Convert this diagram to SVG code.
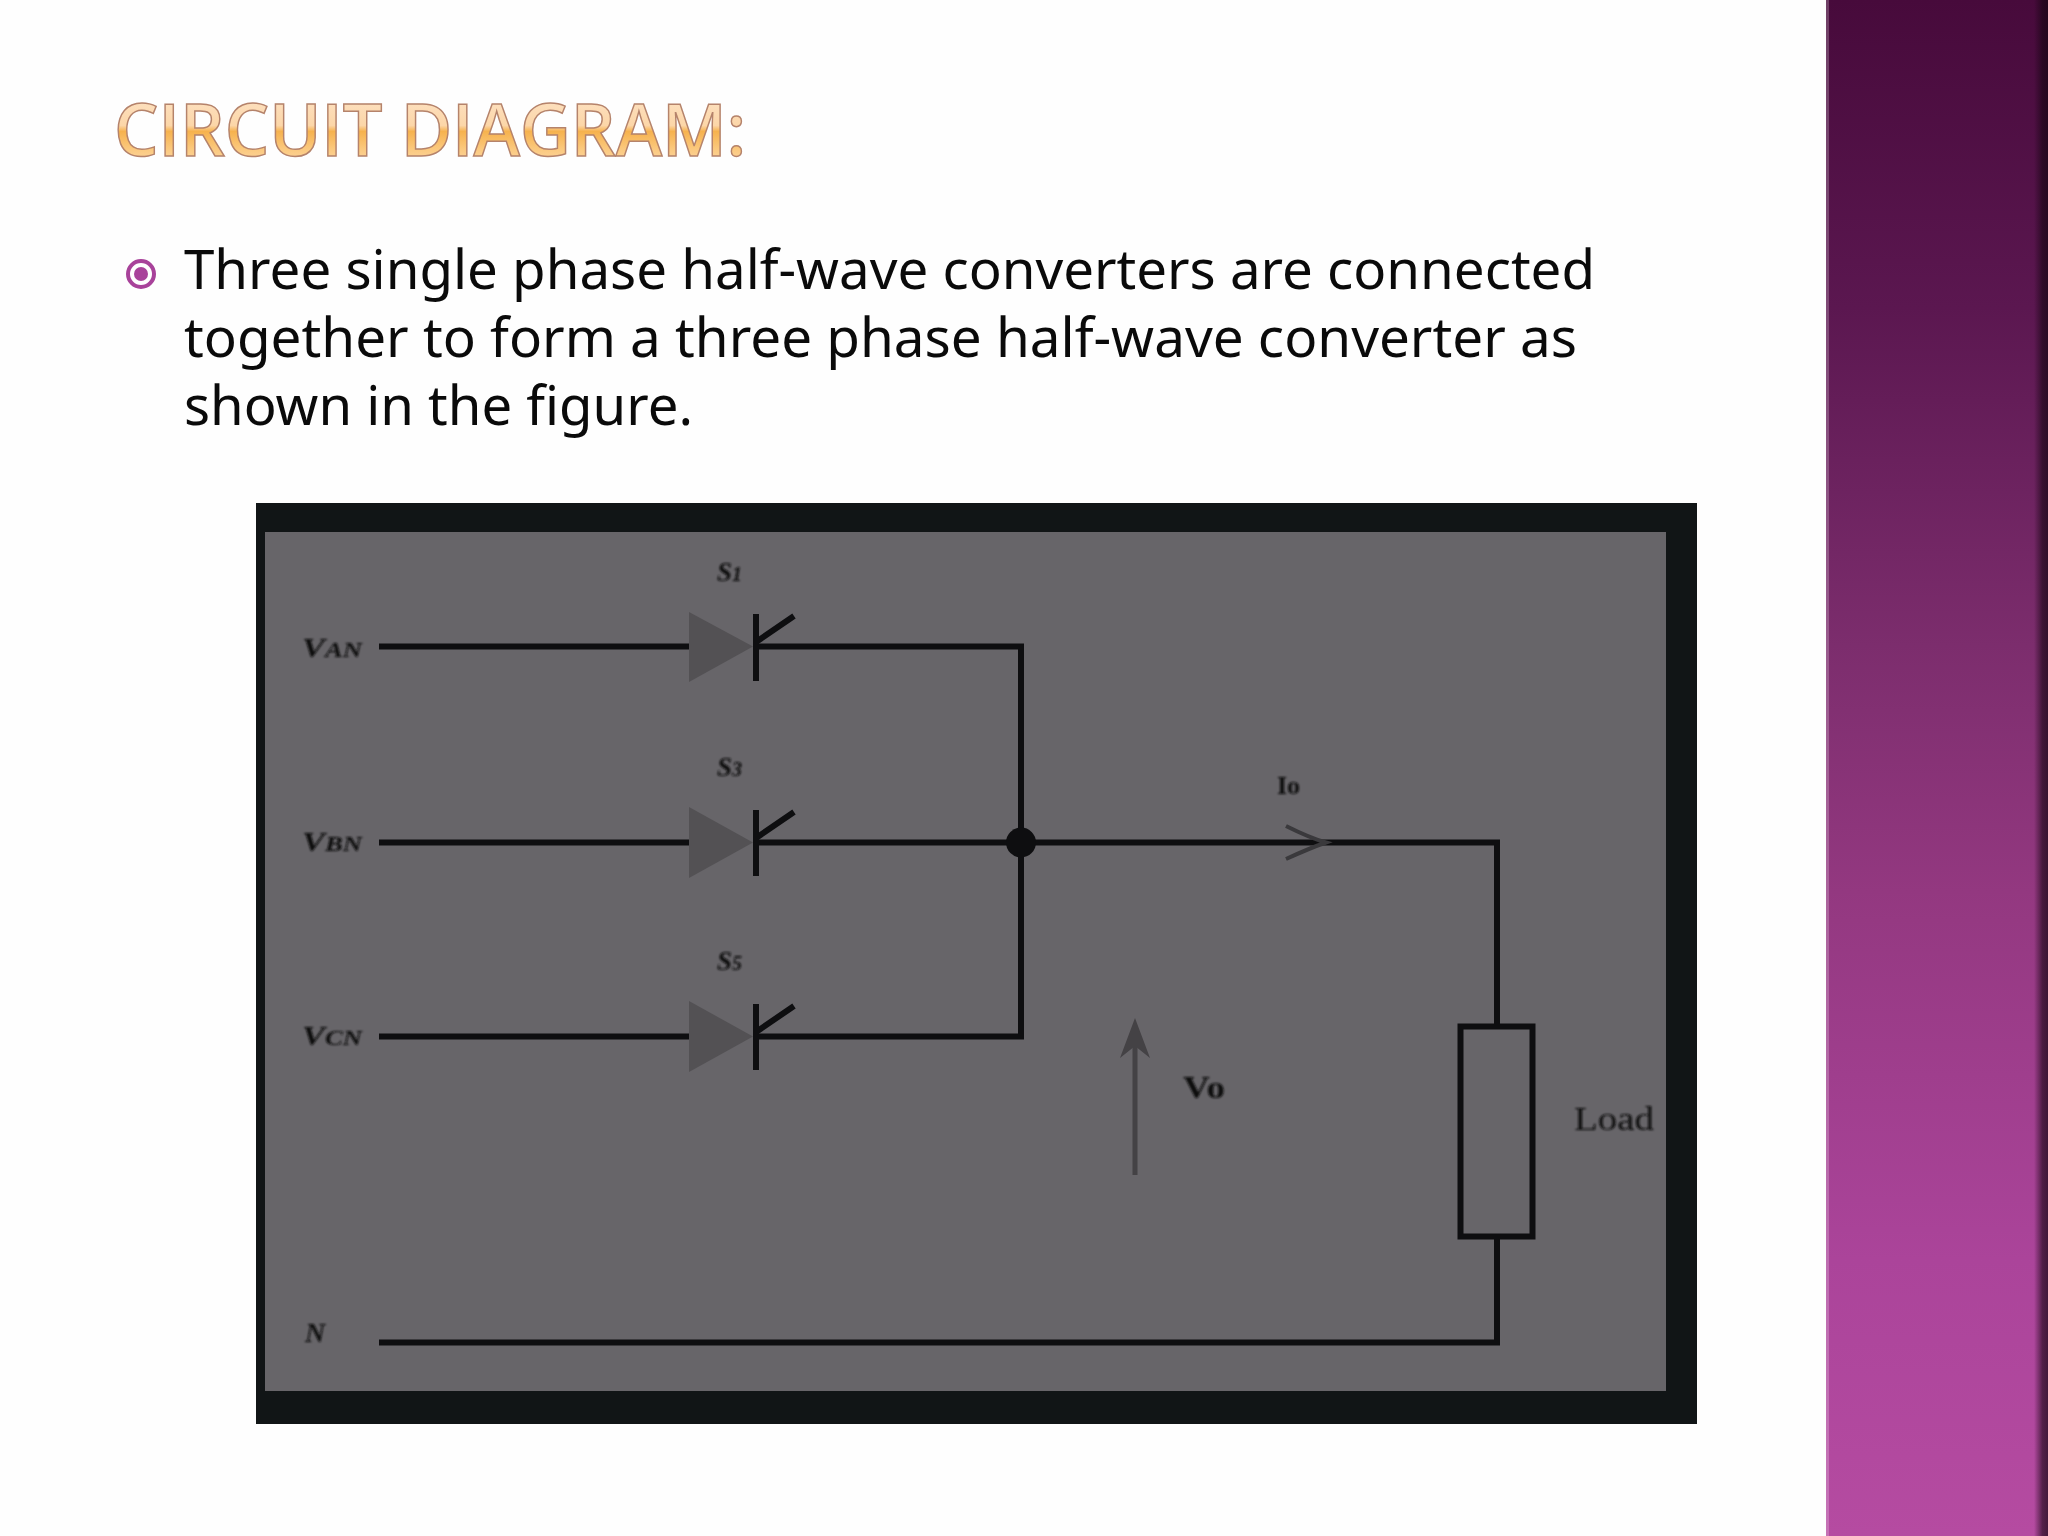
<svg xmlns="http://www.w3.org/2000/svg" width="2048" height="1536" viewBox="0 0 2048 1536">
<defs>
<linearGradient id="side" x1="0" y1="0" x2="0" y2="1">
<stop offset="0" stop-color="#470a3b"/>
<stop offset="0.2" stop-color="#5b1750"/>
<stop offset="0.42" stop-color="#7c2d6d"/>
<stop offset="0.58" stop-color="#933880"/>
<stop offset="0.82" stop-color="#ab449a"/>
<stop offset="1" stop-color="#b54ba1"/>
</linearGradient>
<linearGradient id="edge" x1="0" y1="0" x2="1" y2="0">
<stop offset="0" stop-color="#140510" stop-opacity="0"/>
<stop offset="0.6" stop-color="#140510" stop-opacity="0.6"/>
<stop offset="1" stop-color="#140510" stop-opacity="0.7"/>
</linearGradient>
<linearGradient id="gold" x1="0" y1="0" x2="0" y2="1">
<stop offset="0" stop-color="#fde8d2"/>
<stop offset="0.48" stop-color="#fcd6a8"/>
<stop offset="0.54" stop-color="#f6b24e"/>
<stop offset="0.72" stop-color="#fbc97f"/>
<stop offset="1" stop-color="#fde2bf"/>
</linearGradient>
<filter id="soft" x="-20%" y="-20%" width="140%" height="140%"><feGaussianBlur stdDeviation="0.9"/></filter>
<style>
.body{font-family:"Noto Sans","Liberation Sans",sans-serif;font-size:54px;fill:#0a0a0a}
.title{font-family:"Open Sans","Liberation Sans",sans-serif;font-size:73px;font-weight:600;fill:url(#gold);stroke:#b5836b;stroke-width:1.5}
.wire{fill:none;stroke:#0e0e10;stroke-width:6}
.lab{font-family:"Liberation Serif",serif;fill:#111;font-weight:700;filter:url(#soft)}
.tri{fill:#535154}
</style>
</defs>
<rect width="2048" height="1536" fill="#fefefe"/>
<rect id="sidebar" x="1826" y="0" width="222" height="1536" fill="url(#side)"/>
<rect x="1826" y="0" width="3" height="1536" fill="#ffffff" opacity="0.22"/>
<rect x="2034" y="0" width="14" height="1536" fill="url(#edge)"/>
<text class="title" x="114" y="156" textLength="632" lengthAdjust="spacingAndGlyphs">CIRCUIT DIAGRAM:</text>
<g id="bullet"><circle cx="141" cy="274" r="13" fill="none" stroke="#a8429a" stroke-width="4"/><circle cx="141" cy="274" r="7" fill="#a8429a"/></g>
<text class="body" x="184" y="289" textLength="1411" lengthAdjust="spacingAndGlyphs">Three single phase half-wave converters are connected</text>
<text class="body" x="184" y="357" textLength="1393" lengthAdjust="spacingAndGlyphs">together to form a three phase half-wave converter as</text>
<text class="body" x="184" y="425" textLength="509" lengthAdjust="spacingAndGlyphs">shown in the figure.</text>
<g id="figure">
<rect x="256" y="503" width="1441" height="921" fill="#111516"/>
<rect x="265" y="532" width="1401" height="859" fill="#676569"/>
</g>
<g id="connectors">
<path class="wire" d="M379 646.500H690M756 646.500H1021V1036.500H756"/>
<path class="wire" d="M379 842.500H690M756 842.500H1497V1025"/>
<path class="wire" d="M379 1036.500H690"/>
<path class="wire" d="M379 1342.500H1497V1237"/>
<path d="M1286 826Q1310 838 1326 842.500Q1310 848 1286 859" fill="none" stroke="#3a393c" stroke-width="4"/>
<path d="M1135 1175V1030" stroke="#444245" stroke-width="5" fill="none"/>
<path d="M1135 1018L1150 1058L1135 1046L1120 1058Z" fill="#444245"/>
</g>
<g id="scr1"><path class="tri" d="M689 612L753 646.500L689 682Z"/><path class="wire" d="M756 614V681M756 642L794 616"/></g>
<g id="scr2"><path class="tri" d="M689 807L753 842.500L689 878Z"/><path class="wire" d="M756 810V876M756 838L794 812"/></g>
<g id="scr3"><path class="tri" d="M689 1001L753 1036.500L689 1072Z"/><path class="wire" d="M756 1004V1070M756 1032L794 1006"/></g>
<g id="junction"><circle cx="1021" cy="842.500" r="15" fill="#0e0e10"/></g>
<g id="load"><rect x="1460.500" y="1026.500" width="72" height="210" fill="#676569" stroke="#0e0e10" stroke-width="6"/></g>
<g id="labels">
<text class="lab" x="302" y="657" font-size="27" font-style="italic" textLength="60" lengthAdjust="spacingAndGlyphs">V<tspan font-size="21">AN</tspan></text>
<text class="lab" x="302" y="851" font-size="27" font-style="italic" textLength="60" lengthAdjust="spacingAndGlyphs">V<tspan font-size="21">BN</tspan></text>
<text class="lab" x="302" y="1045" font-size="27" font-style="italic" textLength="60" lengthAdjust="spacingAndGlyphs">V<tspan font-size="21">CN</tspan></text>
<text class="lab" x="305" y="1342" font-size="28" font-style="italic">N</text>
<text class="lab" x="717" y="581" font-size="27" font-style="italic">S<tspan font-size="20">1</tspan></text>
<text class="lab" x="717" y="776" font-size="27" font-style="italic">S<tspan font-size="20">3</tspan></text>
<text class="lab" x="717" y="970" font-size="27" font-style="italic">S<tspan font-size="20">5</tspan></text>
<text class="lab" x="1277" y="794" font-size="26">Io</text>
<text class="lab" x="1183" y="1098" font-size="32" textLength="42" lengthAdjust="spacingAndGlyphs">Vo</text>
<text class="lab" x="1574" y="1130" font-size="34" textLength="80" lengthAdjust="spacingAndGlyphs" style="font-weight:400">Load</text>
</g>
</svg>
